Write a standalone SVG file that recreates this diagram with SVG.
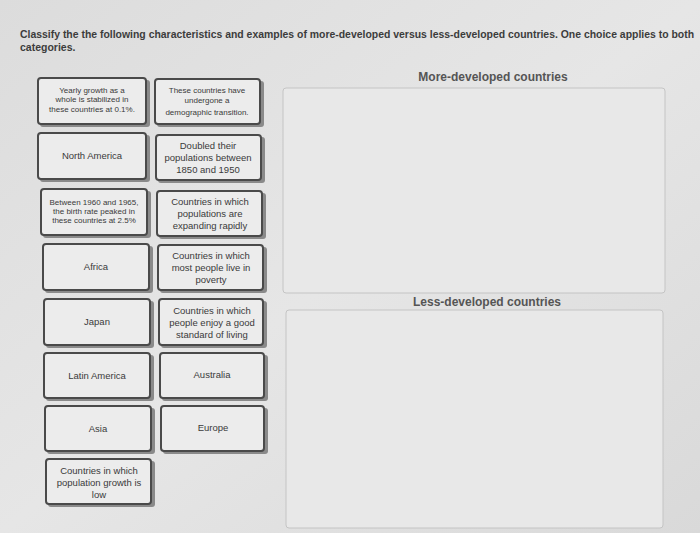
<svg xmlns="http://www.w3.org/2000/svg" width="700" height="533" viewBox="0 0 700 533">
<defs>
<linearGradient id="bg" x1="0" y1="0" x2="1" y2="1"><stop offset="0" stop-color="#dcdcdc"/><stop offset="0.5" stop-color="#e6e6e6"/><stop offset="1" stop-color="#d9d9d9"/></linearGradient>
<style>
.card rect.c{fill:#ececec;stroke:#4a4a4a;stroke-width:2}
.card rect.s{fill:#8a8a8a}
text{font-family:"Liberation Sans",Arial,sans-serif;fill:#3a3a3a;text-anchor:middle}
.t{font-size:9.5px}
.sm{font-size:8px}
.h{font-size:12px;font-weight:bold;fill:#555}
.drop{fill:#e8e8e8;stroke:#c4c4c4;stroke-width:1}
.q{font-size:10.5px;font-weight:bold;text-anchor:start;fill:#3c3c3c}
</style>
</defs>
<rect width="700" height="533" fill="url(#bg)"/>
<text class="q" x="20" y="38" textLength="674" lengthAdjust="spacingAndGlyphs">Classify the the following characteristics and examples of more-developed versus less-developed countries. One choice applies to both</text>
<text class="q" x="20" y="51">categories.</text>
<g id="more"><text class="h" x="493" y="81">More-developed countries</text><rect class="drop" x="283" y="88" width="382" height="205" rx="3"/></g>
<g id="less"><text class="h" x="487" y="306">Less-developed countries</text><rect class="drop" x="286" y="310" width="377" height="218" rx="3"/></g>
<g id="c1" class="card"><rect class="s" x="40" y="80" width="110" height="47" rx="3"/><rect class="c" x="38" y="78" width="108" height="46" rx="3"/><text class="sm" x="92" y="93">Yearly growth as a</text><text class="sm" x="92" y="102">whole is stabilized in</text><text class="sm" x="92" y="112">these countries at 0.1%.</text></g>
<g id="c2" class="card"><rect class="s" x="157" y="81" width="107" height="46" rx="3"/><rect class="c" x="155" y="79" width="105" height="45" rx="3"/><text class="sm" x="207" y="93">These countries have</text><text class="sm" x="207" y="103">undergone a</text><text class="sm" x="207" y="115">demographic transition.</text></g>
<g id="c3" class="card"><rect class="s" x="40" y="135" width="110" height="47" rx="3"/><rect class="c" x="38" y="133" width="108" height="46" rx="3"/><text class="t" x="92" y="159">North America</text></g>
<g id="c4" class="card"><rect class="s" x="158" y="137" width="107" height="46" rx="3"/><rect class="c" x="156" y="135" width="105" height="45" rx="3"/><text class="t" x="208" y="149">Doubled their</text><text class="t" x="208" y="161">populations between</text><text class="t" x="208" y="173">1850 and 1950</text></g>
<g id="c5" class="card"><rect class="s" x="43" y="191" width="108" height="47" rx="3"/><rect class="c" x="41" y="189" width="106" height="46" rx="3"/><text class="sm" x="94" y="205">Between 1960 and 1965,</text><text class="sm" x="94" y="214">the birth rate peaked in</text><text class="sm" x="94" y="223">these countries at 2.5%</text></g>
<g id="c6" class="card"><rect class="s" x="159" y="193" width="107" height="46" rx="3"/><rect class="c" x="157" y="191" width="105" height="45" rx="3"/><text class="t" x="210" y="205">Countries in which</text><text class="t" x="210" y="217">populations are</text><text class="t" x="210" y="229">expanding rapidly</text></g>
<g id="c7" class="card"><rect class="s" x="45" y="246" width="108" height="47" rx="3"/><rect class="c" x="43" y="244" width="106" height="46" rx="3"/><text class="t" x="96" y="270">Africa</text></g>
<g id="c8" class="card"><rect class="s" x="160" y="247" width="107" height="46" rx="3"/><rect class="c" x="158" y="245" width="105" height="45" rx="3"/><text class="t" x="211" y="259">Countries in which</text><text class="t" x="211" y="271">most people live in</text><text class="t" x="211" y="283">poverty</text></g>
<g id="c9" class="card"><rect class="s" x="46" y="301" width="108" height="47" rx="3"/><rect class="c" x="44" y="299" width="106" height="46" rx="3"/><text class="t" x="97" y="325">Japan</text></g>
<g id="c10" class="card"><rect class="s" x="161" y="301" width="106" height="47" rx="3"/><rect class="c" x="159" y="299" width="104" height="46" rx="3"/><text class="t" x="212" y="314">Countries in which</text><text class="t" x="212" y="326">people enjoy a good</text><text class="t" x="212" y="338">standard of living</text></g>
<g id="c11" class="card"><rect class="s" x="46" y="355" width="108" height="46" rx="3"/><rect class="c" x="44" y="353" width="106" height="45" rx="3"/><text class="t" x="97" y="379">Latin America</text></g>
<g id="c12" class="card"><rect class="s" x="162" y="355" width="106" height="46" rx="3"/><rect class="c" x="160" y="353" width="104" height="45" rx="3"/><text class="t" x="212" y="378">Australia</text></g>
<g id="c13" class="card"><rect class="s" x="47" y="408" width="108" height="46" rx="3"/><rect class="c" x="45" y="406" width="106" height="45" rx="3"/><text class="t" x="98" y="432">Asia</text></g>
<g id="c14" class="card"><rect class="s" x="163" y="408" width="105" height="46" rx="3"/><rect class="c" x="161" y="406" width="103" height="45" rx="3"/><text class="t" x="213" y="431">Europe</text></g>
<g id="c15" class="card"><rect class="s" x="48" y="461" width="107" height="46" rx="3"/><rect class="c" x="46" y="459" width="105" height="45" rx="3"/><text class="t" x="99" y="474">Countries in which</text><text class="t" x="99" y="486">population growth is</text><text class="t" x="99" y="498">low</text></g>
<g id="connectors"/>
</svg>
